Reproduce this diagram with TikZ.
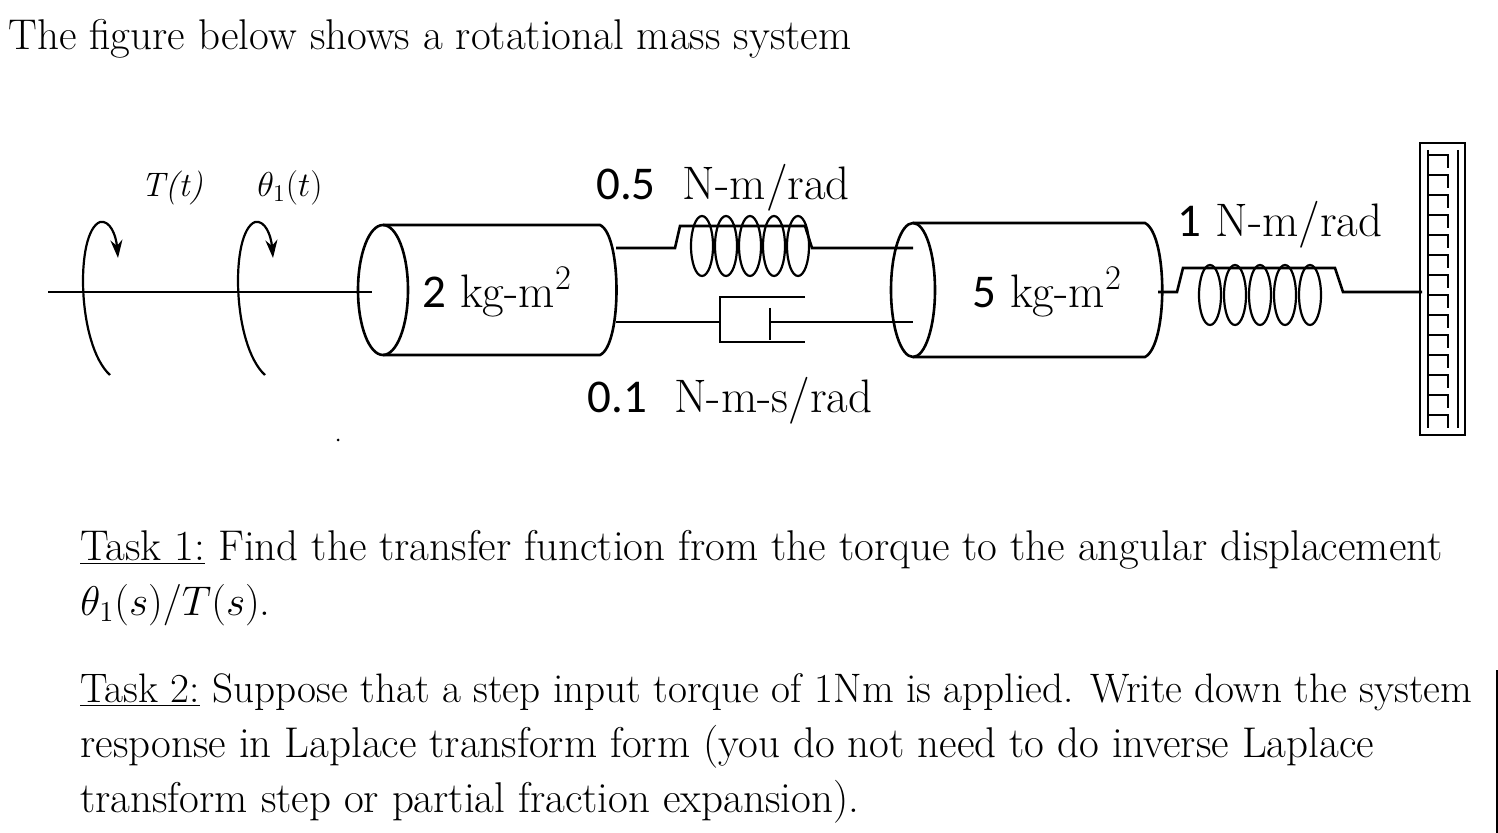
\documentclass[tikz,border=0pt]{standalone}
\usepackage{fontspec}
\newfontfamily\carl{Carlito}
\usetikzlibrary{arrows.meta}
\begin{document}
\begin{tikzpicture}[x=0.5pt,y=-0.5pt,
  ln/.style={line width=1.3pt},
  txt/.style={anchor=base west,inner sep=0pt,font=\fontsize{21.5}{24}\selectfont},
  lab/.style={inner sep=0pt,font=\fontsize{23.5}{26}\selectfont}]
\useasboundingbox (0,0) rectangle (1498,833);
\node[txt] (title) at (8,50) {The figure below shows a rotational mass system};
\node[txt] (t1) at (80,560) {\underline{Task 1:} Find the transfer function from the torque to the angular displacement};
\node[txt] (t1b) at (80,615) {$\theta_1(s)/T(s)$.};
\node[txt,font=\fontsize{20.6}{24}\selectfont] (t2) at (80,702) {\underline{Task 2:} Suppose that a step input torque of 1Nm is applied. Write down the system};
\node[txt] (t2b) at (80,757) {response in Laplace transform form (you do not need to do inverse Laplace};
\node[txt] (t2c) at (80,812) {transform step or partial fraction expansion).};
% shaft
\draw[ln] (48,292) -- (372,292);
% torque arrows
\foreach \x/\n in {85/T,240/Th}{
 \draw[line width=1.1pt,-{Stealth[length=9pt,width=6pt]}] (\x+25,375) .. controls (\x-8,345) and (\x-10,232) .. (\x+15,222) .. controls (\x+25,220) and (\x+31,235) .. (\x+33,258);
}
\node[inner sep=0pt,font=\fontsize{17}{20}\selectfont\itshape] (Tl) at (172,188) {T(t)};
\node[inner sep=0pt,font=\fontsize{17}{20}\selectfont\itshape] (thl) at (290,188) {$\theta_1(t)$};
% cylinder 1
\draw[ln] (383,290) ellipse (25 and 65);
\draw[ln] (383,225) -- (600,225) .. controls (622,235) and (622,345) .. (600,355) -- (383,355);
\node[lab] (m1) at (497,292) {{\carl 2} kg-m$^2$};
% cylinder 2
\draw[ln] (913,290) ellipse (22 and 67);
\draw[ln] (913,223) -- (1145,223) .. controls (1168,235) and (1168,345) .. (1145,357) -- (913,357);
\node[lab] (m2) at (1047,292) {{\carl 5} kg-m$^2$};
% spring 1
\draw[ln] (616,248) -- (675,248) -- (680,226) -- (805,226) -- (812,248) -- (913,248);
\foreach \i in {0,...,4} \draw[line width=1.1pt] (702+\i*24,246) ellipse (11 and 30);
\node[lab,anchor=base] (k1) at (723,200) {{\carl 0.5}\; N-m/rad};
% damper
\draw[ln] (616,322) -- (720,322);
\draw[ln] (805,297) -- (720,297) -- (720,342) -- (805,342);
\draw[ln] (770,308) -- (770,340);
\draw[ln] (770,322) -- (913,322);
\node[lab,anchor=base] (b1) at (730,413) {{\carl 0.1}\; N-m-s/rad};
% spring 2
\draw[ln] (1158,292) -- (1177,292) -- (1183,268) -- (1335,268) -- (1343,292) -- (1422,292);
\foreach \i in {0,...,4} \draw[line width=1.1pt] (1210+\i*25,295) ellipse (11 and 30);
\node[lab,anchor=base] (k2) at (1280,237) {{\carl 1} N-m/rad};
% wall
\draw[line width=1.4pt] (1420,143) rectangle (1465,435);
\draw[line width=0.8pt] (1428,150) -- (1428,428) (1458,150) -- (1458,428);
\foreach \j in {0,...,13} \draw[line width=0.7pt] (1428,155+\j*20) -- (1448,155+\j*20) -- (1448,168+\j*20);
\fill (338,440) circle (1.5);
\fill (1496,670) rectangle (1498,833);
\end{tikzpicture}
\end{document}
